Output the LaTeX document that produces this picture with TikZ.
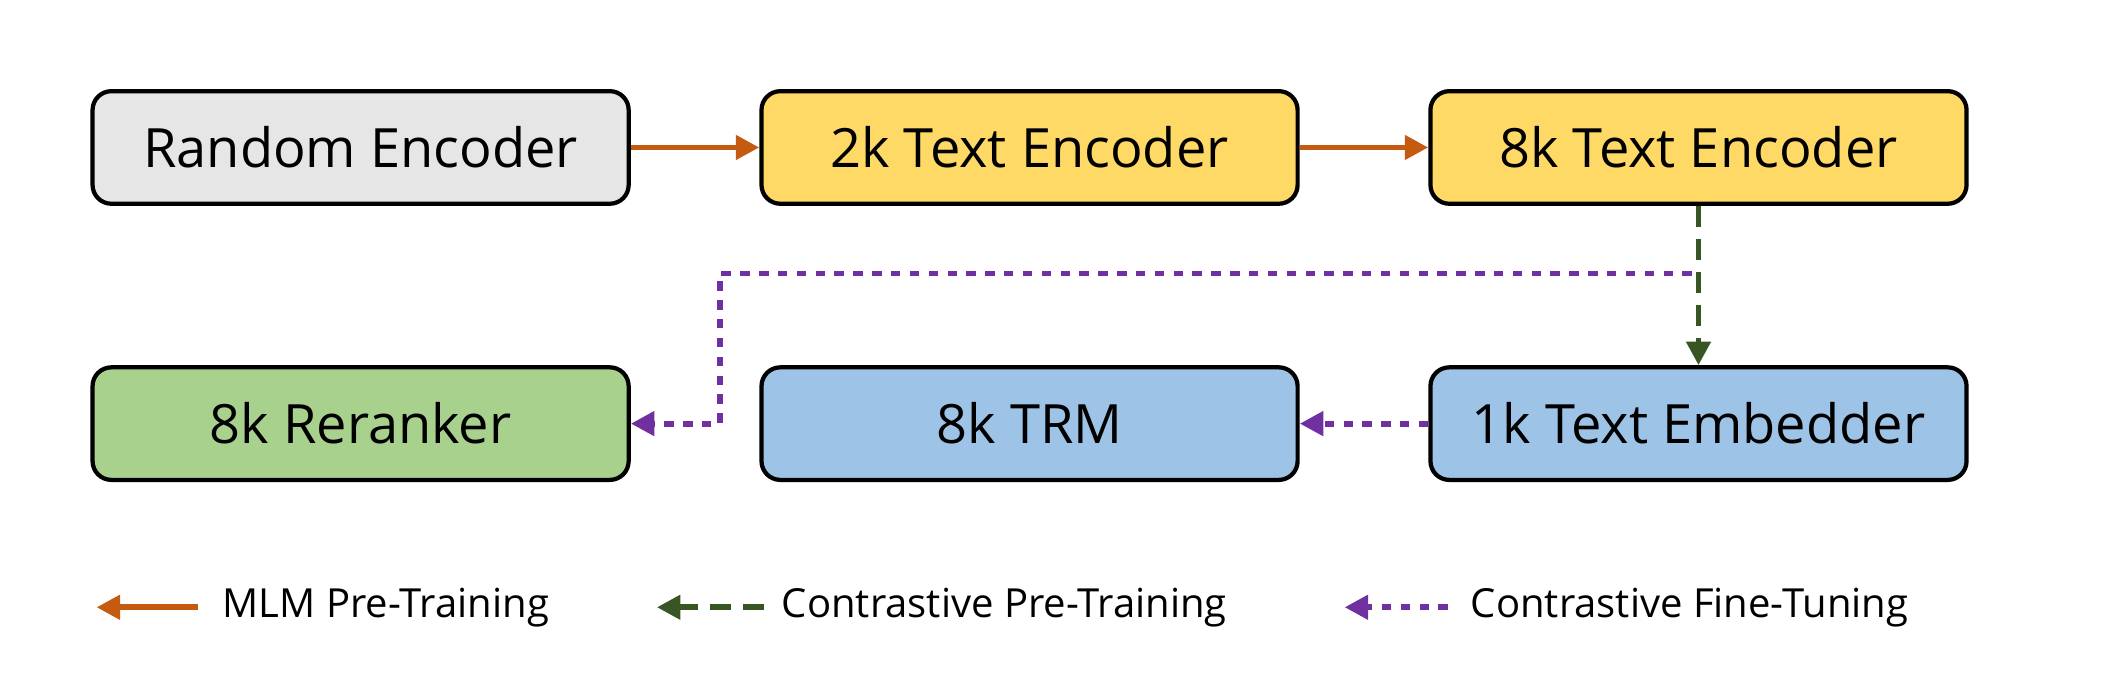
\documentclass[tikz,border=0pt]{standalone}
\usepackage{fontspec}
\setmainfont{Open Sans}
\usetikzlibrary{arrows.meta}
\definecolor{cgray}{HTML}{E7E6E6}
\definecolor{cyel}{HTML}{FFD966}
\definecolor{cgrn}{HTML}{A9D18E}
\definecolor{cblu}{HTML}{9DC3E6}
\definecolor{aor}{HTML}{C55A11}
\definecolor{agr}{HTML}{375623}
\definecolor{apu}{HTML}{7030A0}
\begin{document}
\begin{tikzpicture}[x=0.02cm,y=-0.02cm,
 box/.style={draw=black,line width=1.8pt,rounded corners=8pt,minimum width=8cm,minimum height=1.68cm,inner sep=0pt,font=\fontsize{23}{26}\selectfont},
 mlm/.style={draw=aor,line width=2.5pt,-{Triangle[length=10pt,width=10pt]}},
 cpt/.style={draw=agr,line width=2.5pt,dash pattern=on 9pt off 5pt,-{Triangle[length=10pt,width=10pt]}},
 cft/.style={draw=apu,line width=2.5pt,dash pattern=on 4pt off 4pt,-{Triangle[length=10pt,width=10pt]}},
 leg/.style={font=\fontsize{17}{20}\selectfont,anchor=west}]
\useasboundingbox (0,0) rectangle (1568,507);
\node[box,fill=cgray] (re) at (269,110) {Random Encoder};
\node[box,fill=cyel] (e2) at (768,110) {2k Text Encoder};
\node[box,fill=cyel] (e8) at (1267,110) {8k Text Encoder};
\node[box,fill=cgrn] (rr) at (269,316) {8k Reranker};
\node[box,fill=cblu] (trm) at (768,316) {8k TRM};
\node[box,fill=cblu] (emb) at (1267,316) {1k Text Embedder};
\draw[mlm] (re) -- (e2);
\draw[mlm] (e2) -- (e8);
\draw[cpt] (e8) -- (emb);
\draw[cft] (emb) -- (trm);
\coordinate (c1) at (1262,204);
\coordinate (c2) at (537,204);
\coordinate (c3) at (537,316);
\draw[cft] (c1) -- (c2) -- (c3) -- (rr.east);
\coordinate (l1a) at (148,453); \coordinate (l1b) at (72,453);
\coordinate (l2a) at (570,453); \coordinate (l2b) at (490,453);
\coordinate (l3a) at (1080,453); \coordinate (l3b) at (1003,453);
\draw[mlm] (l1a) -- (l1b);
\draw[cpt] (l2a) -- (l2b);
\draw[cft] (l3a) -- (l3b);
\node[leg] (t1) at (160,453) {MLM Pre-Training};
\node[leg] (t2) at (577,453) {Contrastive Pre-Training};
\node[leg] (t3) at (1091,453) {Contrastive Fine-Tuning};
\end{tikzpicture}
\end{document}
